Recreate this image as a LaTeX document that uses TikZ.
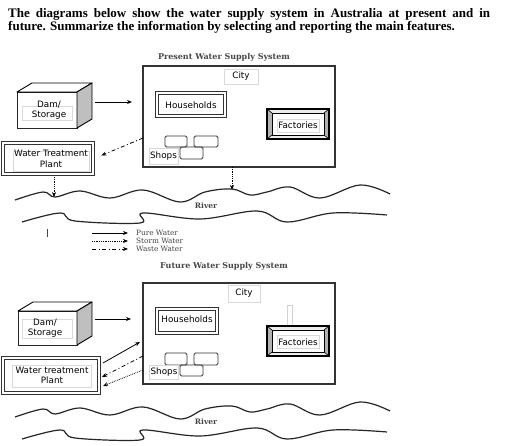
\documentclass[tikz,border=0pt]{standalone}
\usepackage{fontspec}
\setmainfont{Liberation Serif}
\newfontfamily\labfont{DejaVu Sans}
\newfontfamily\capfont{DejaVu Serif}
\usetikzlibrary{arrows.meta}
\definecolor{capgray}{RGB}{70,70,70}
\newcommand\facframe[1]{%
 \fill[gray!60] (#1.north west) -- ([shift={(5,4)}]#1.north west) -- ([shift={(5,-4)}]#1.south west) -- (#1.south west) -- cycle;
 \fill[gray!60] (#1.north east) -- ([shift={(-5,4)}]#1.north east) -- ([shift={(-5,-4)}]#1.south east) -- (#1.south east) -- cycle;
 \fill[gray!15] (#1.north west) -- ([shift={(5,4)}]#1.north west) -- ([shift={(-5,4)}]#1.north east) -- (#1.north east) -- cycle;
 \fill[gray!15] (#1.south west) -- ([shift={(5,-4)}]#1.south west) -- ([shift={(-5,-4)}]#1.south east) -- (#1.south east) -- cycle;
 \draw[line width=0.6pt] ([shift={(5,4)}]#1.north west) rectangle ([shift={(-5,-4)}]#1.south east);
 \draw[line width=0.6pt] (#1.north west) -- ([shift={(5,4)}]#1.north west) (#1.north east) -- ([shift={(-5,4)}]#1.north east) (#1.south west) -- ([shift={(5,-4)}]#1.south west) (#1.south east) -- ([shift={(-5,-4)}]#1.south east);
 \draw[line width=1.2pt] (#1.north west) rectangle (#1.south east);
}
\newcommand\cubefaces[1]{%
 \draw[line width=0.9pt, fill=white, line join=round] (#1.north west) -- ++(15,-9) -- ([shift={(15,-9)}]#1.north east) -- (#1.north east) -- cycle;
 \draw[line width=0.9pt, fill=gray!50, line join=round] (#1.north east) -- ++(15,-9) -- ([shift={(15,-9)}]#1.south east) -- (#1.south east) -- cycle;
}
\begin{document}
\begin{tikzpicture}[x=1pt,y=-1pt,
  lbl/.style={font=\labfont\fontsize{8.8}{10.5}\selectfont, inner sep=1pt, align=center},
  tbox/.style={draw=gray!30, line width=0.4pt},
  citybox/.style={draw=black!80, line width=1.3pt, fill=white, outer sep=0pt},
  dframe/.style={draw=black!80, line width=0.9pt, double=white, double distance=1.5pt, outer sep=0pt},
  facbox/.style={draw=black, line width=1.2pt, fill=white, outer sep=0pt},
  cube/.style={draw=black!85, line width=0.9pt, fill=white, outer sep=0pt},
  shop/.style={draw=black!80, line width=0.9pt, rounded corners=1.5pt},
  captxt/.style={font=\capfont\bfseries\fontsize{8}{9}\selectfont, text=capgray, inner sep=0pt},
  rivtxt/.style={font=\capfont\bfseries\fontsize{7.5}{8}\selectfont, text=capgray, inner sep=0pt},
  leg/.style={font=\capfont\fontsize{7.3}{8}\selectfont, text=capgray, inner sep=0pt, anchor=west},
  pure/.style={-{Stealth[length=5pt,width=4pt]}, line width=0.8pt},
  storm/.style={densely dotted, -{Stealth[length=5pt,width=4pt]}, line width=0.8pt},
  waste/.style={dash pattern=on 4pt off 2.5pt on 1pt off 2.5pt, -{Stealth[length=5pt,width=4pt]}, line width=0.8pt},
  riv/.style={line width=1.2pt, black!85}
]
\fill[white] (0,0) rectangle (512,446);
\useasboundingbox (0,0) rectangle (512,446);

% title
\node[anchor=north west, inner sep=0pt, text width=482pt, align=justify,
      font=\bfseries\fontsize{13}{13.5}\selectfont] (title) at (8,8)
 {The diagrams below show the water supply system in Australia at present and in\linebreak
  future. Summarize the information by selecting and reporting the main features.};

% ================= PRESENT =================
\node[captxt] (cap1) at (224,57) {Present Water Supply System};
\node[citybox, minimum width=192pt, minimum height=101pt] (city1) at (239,116.5) {};
\node[lbl, tbox, minimum width=34pt, minimum height=15pt] (cityl1) at (241,76.5) {City};
\node[dframe, minimum width=68pt, minimum height=23pt] (hh1) at (191,104.5) {};
\node[lbl] (hhl1) at (191,105) {Households};
\node[facbox, minimum width=62pt, minimum height=30pt] (fac1) at (298,124) {};
\facframe{fac1}
\node[lbl, tbox, minimum width=42pt, minimum height=13pt] (facl1) at (298,125.5) {Factories};
\node[shop, minimum width=22pt, minimum height=11pt] (s1a) at (176,141.5) {};
\node[shop, minimum width=24pt, minimum height=11pt] (s1b) at (206,141.5) {};
\node[shop, minimum width=23pt, minimum height=12pt] (s1c) at (191.5,153) {};
\node[lbl, tbox, minimum width=29pt, minimum height=16pt] (shl1) at (163.5,156) {Shops};
% dam
\node[cube, minimum width=60pt, minimum height=36pt] (dam1) at (47,110) {};
\cubefaces{dam1}
\node[tbox, minimum width=50pt, minimum height=14pt, inner sep=0pt] (daml1b) at (47,113) {};
\node[lbl] (daml1) at (49,110) {Dam/\\Storage};
% water treatment plant
\node[dframe, minimum width=90pt, minimum height=31pt] (wtp1) at (48,158.5) {};
\node[tbox, minimum width=76pt, minimum height=20pt, inner sep=0pt] (wtpb1) at (51,161) {};
\node[lbl] (wtpl1) at (51,159) {Water Treatment\\Plant};
% connectors
\draw[pure, shorten <=18pt, shorten >=11pt] ([yshift=8pt]dam1.east) -- ([yshift=8pt]dam1.east -| city1.west);
\draw[waste, shorten >=9pt] ([yshift=-21.5pt]city1.west) -- ([yshift=-0.5pt]wtp1.east);
\coordinate (rv1a) at (54,197);
\coordinate (rv1b) at (232,190);
\draw[storm, shorten <=3pt] ([xshift=6pt]wtp1.south) -- (rv1a);
\draw[storm] ([xshift=-7pt]city1.south) -- (rv1b);
% river
\draw[riv] plot[smooth, tension=0.6] coordinates {(15,200) (43,192) (55,197) (80,191) (110,198) (143,190) (180,202) (205,192) (232,189) (250,195) (267,192) (290,187) (320,198) (360,185) (390,194)};
\draw[riv] plot[smooth, tension=0.6] coordinates {(22,222) (60,213) (75,221) (140,223) (143,213) (200,219) (257,211) (287,222) (333,213) (387,215)};
\node[rivtxt] (river1) at (206,206) {River};

% legend
\draw[line width=0.6pt, capgray] (47,229) -- (47,237);
\coordinate (lg1a) at (92,233); \coordinate (lg1b) at (128,233);
\coordinate (lg2a) at (92,241); \coordinate (lg2b) at (128,241);
\coordinate (lg3a) at (92,249); \coordinate (lg3b) at (128,249);
\draw[pure] (lg1a) -- (lg1b);
\draw[storm] (lg2a) -- (lg2b);
\draw[waste] (lg3a) -- (lg3b);
\node[leg] (lgt1) at (136,233) {Pure Water};
\node[leg] (lgt2) at (136,241) {Storm Water};
\node[leg] (lgt3) at (136,249) {Waste Water};

% ================= FUTURE =================
\node[captxt] (cap2) at (224,266) {Future Water Supply System};
\node[citybox, minimum width=192pt, minimum height=101pt] (city2) at (239,333.5) {};
\node[lbl, tbox, minimum width=32pt, minimum height=17pt] (cityl2) at (244,293.5) {City};
\node[draw=gray!35, line width=0.5pt, minimum width=5pt, minimum height=21pt, inner sep=0pt] (facp2) at (289.5,315.5) {};
\node[dframe, minimum width=60pt, minimum height=24pt] (hh2) at (187,321) {};
\node[lbl] (hhl2) at (187,319) {Households};
\node[facbox, minimum width=62pt, minimum height=30pt] (fac2) at (298,341) {};
\facframe{fac2}
\node[lbl, tbox, minimum width=42pt, minimum height=13pt] (facl2) at (298,342) {Factories};
\node[shop, minimum width=22pt, minimum height=12pt] (s2a) at (176,359) {};
\node[shop, minimum width=24pt, minimum height=12pt] (s2b) at (206,359) {};
\node[shop, minimum width=23pt, minimum height=11pt] (s2c) at (191.5,370.5) {};
\node[lbl, tbox, minimum width=28pt, minimum height=14pt] (shl2) at (164,372) {Shops};
% dam
\node[cube, minimum width=59pt, minimum height=34pt] (dam2) at (47.5,328) {};
\cubefaces{dam2}
\node[tbox, minimum width=50pt, minimum height=19pt, inner sep=0pt] (daml2b) at (47,328.5) {};
\node[lbl] (daml2) at (45,328) {Dam/\\Storage};
% water treatment plant
\node[dframe, minimum width=96pt, minimum height=35pt] (wtp2) at (51,375.5) {};
\node[tbox, minimum width=79pt, minimum height=22pt, inner sep=0pt] (wtpb2) at (51.5,376) {};
\node[lbl] (wtpl2) at (52,375.5) {Water treatment\\Plant};
% connectors
\draw[pure, shorten <=18pt, shorten >=12pt] ([yshift=9pt]dam2.east) -- ([yshift=9pt]dam2.east -| city2.west);
\draw[pure] ([shift={(4,-12.5)}]wtp2.east) -- ([shift={(-3,8.5)}]city2.west);
\draw[waste] ([yshift=-22.5pt]city2.west) -- ([shift={(3,1.5)}]wtp2.east);
\draw[storm] ([yshift=-36.5pt]city2.west) -- ([shift={(4,10.5)}]wtp2.east);
% river
\begin{scope}[yshift=-217pt]
\draw[riv] plot[smooth, tension=0.6] coordinates {(15,200) (43,192) (55,197) (80,191) (110,198) (143,190) (180,202) (205,192) (232,189) (250,195) (267,192) (290,187) (320,198) (360,185) (390,194)};
\draw[riv] plot[smooth, tension=0.6] coordinates {(22,222) (60,213) (75,221) (140,223) (143,213) (200,219) (257,211) (287,222) (333,213) (387,215)};
\end{scope}
\node[rivtxt] (river2) at (206,422) {River};
\end{tikzpicture}
\end{document}
